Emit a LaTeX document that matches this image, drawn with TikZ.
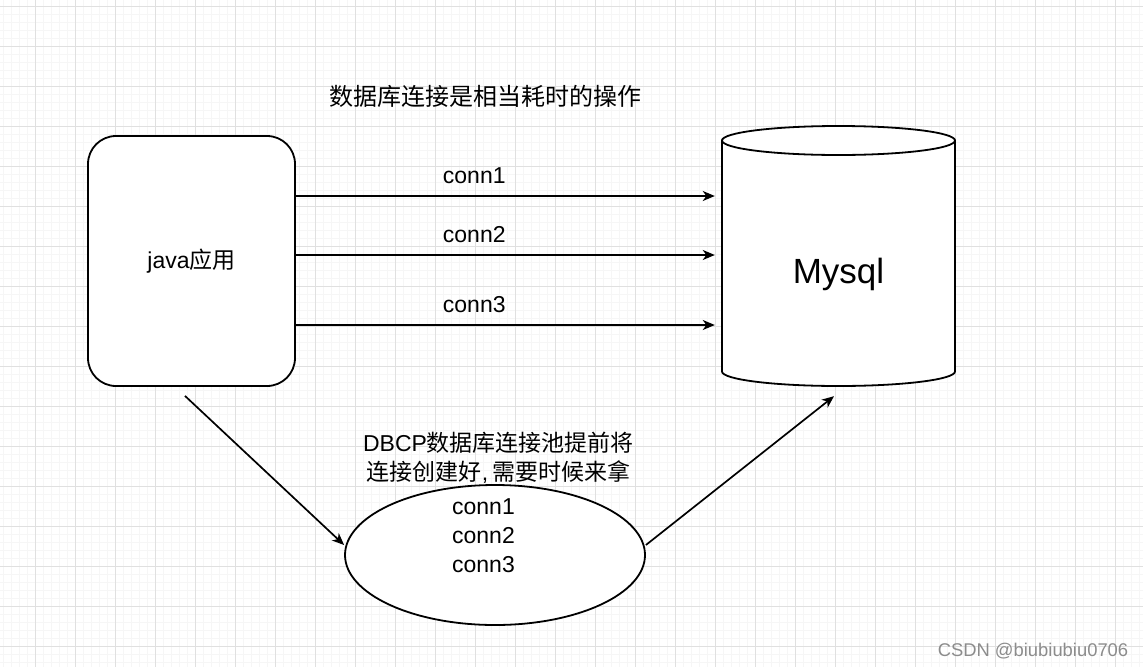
\documentclass[tikz,border=0pt]{standalone}
\usepackage{fontspec}
\setmainfont{Liberation Sans}
\newfontfamily\cjk{Noto Sans CJK SC}
\newcommand{\zh}[1]{{\cjk #1}}
\usetikzlibrary{arrows.meta,shapes.geometric}
\definecolor{gridmajor}{RGB}{224,224,224}
\definecolor{gridminor}{RGB}{246,246,246}
\definecolor{markgray}{RGB}{140,140,140}

\begin{document}
\begin{tikzpicture}[x=1pt,y=-1pt,
    outline/.style={draw=black,line width=1.8pt,fill=white},
    link/.style={line width=1.7pt,-{Stealth[length=12pt,width=10pt,inset=3.5pt]}},
    txt/.style={font=\fontsize{23}{29}\selectfont,inner sep=3.33pt}]
      \useasboundingbox (0,0) rectangle (1143,667);
      \fill[white] (0,0) rectangle (1143,667);
      \foreach \gx in {3.7,11.7,...,1143} \draw[gridminor,line width=1pt] (\gx,0) -- (\gx,667);
      \foreach \gy in {6.7,14.7,...,667} \draw[gridminor,line width=1pt] (0,\gy) -- (1143,\gy);
      \foreach \gx in {35.7,75.7,...,1143} \draw[gridmajor,line width=1pt] (\gx,0) -- (\gx,667);
      \foreach \gy in {6.7,46.7,...,667} \draw[gridmajor,line width=1pt] (0,\gy) -- (1143,\gy);

      \node[txt,font=\cjk\fontsize{24}{29}\selectfont] (title) at (485,96) {数据库连接是相当耗时的操作};

      \node[outline,txt,rounded corners=28pt,minimum width=207pt,minimum height=250pt] (app) at (191.5,261) {java\zh{应用}};

      \node[minimum width=233pt,minimum height=260pt,inner sep=0pt] (db) at (838.5,256) {};
      \draw[outline] (722,140.5) -- (722,371.5) arc[start angle=180,end angle=360,x radius=116.5pt,y radius=14.5pt] -- (955,140.5) -- cycle;
      \draw[outline] (838.5,140.5) ellipse [x radius=116.5pt,y radius=14.5pt];
      \node[font=\fontsize{35}{40}\selectfont] (dbname) at ([yshift=-18pt]db.center) {Mysql};

      \coordinate (c1) at (295,196);
      \coordinate (c2) at (295,255);
      \coordinate (c3) at (295,325);
      \draw[link,shorten >=7pt] (c1) -- (c1 -| db.west) node[txt,pos=.42,above=8.5pt] {conn1};
      \draw[link,shorten >=7pt] (c2) -- (c2 -| db.west) node[txt,pos=.42,above=8.5pt] {conn2};
      \draw[link,shorten >=7pt] (c3) -- (c3 -| db.west) node[txt,pos=.42,above=8.5pt] {conn3};

      \node[outline,ellipse,minimum width=300pt,minimum height=140pt,inner sep=0pt] (pool) at (495,555) {};
      \node[txt,align=center] (pooltitle) at (498.5,457.5) {DBCP\zh{数据库连接池提前将}\\\zh{连接创建好},\,\zh{需要时候来拿}};
      \node[txt,align=center] (poolconns) at (483.5,536) {conn1\\conn2\\conn3};

      \draw[link] ([shift={(-6.5pt,-9pt)}]app.south) -- ([yshift=10pt]pool.west);
      \draw[link] ([yshift=10pt]pool.east) -- ([shift={(-4.5pt,-10pt)}]db.south);

      \node[font=\fontsize{18.4}{22}\selectfont,text=markgray] (wm) at (1033,651) {CSDN @biubiubiu0706};
    \end{tikzpicture}
\end{document}
